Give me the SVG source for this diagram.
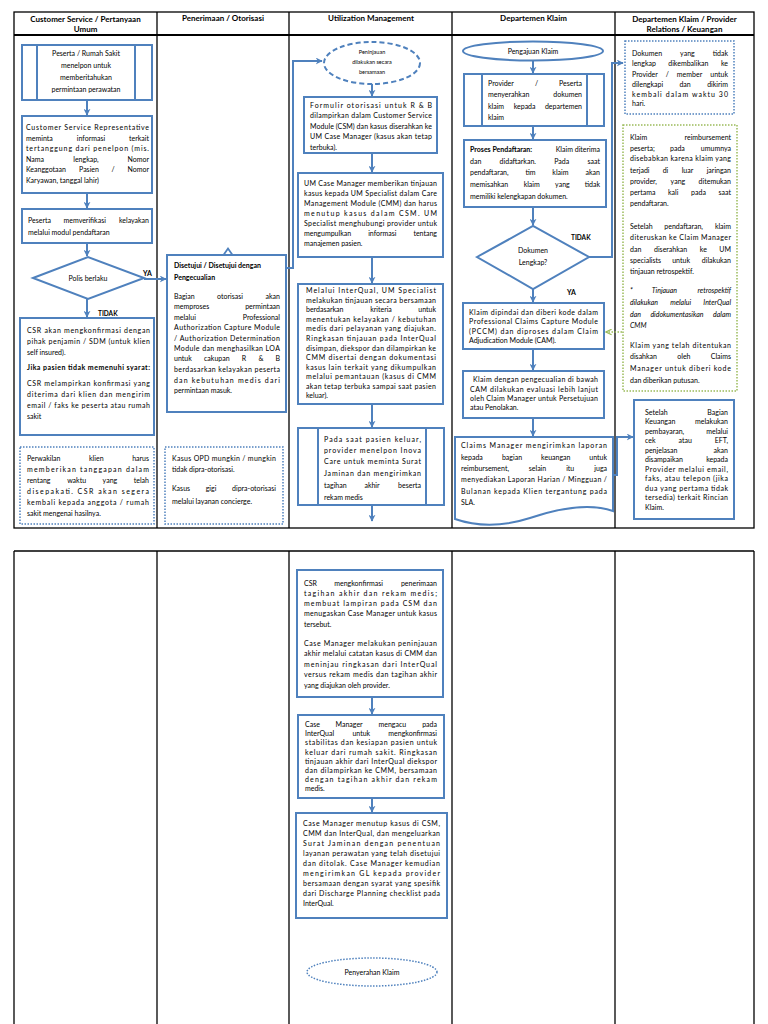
<svg xmlns="http://www.w3.org/2000/svg" width="768" height="1024" viewBox="0 0 768 1024">
<style>
.t{font-family:Lato,"Open Sans","Liberation Sans",sans-serif;font-size:7px;fill:#000}
.s{font-size:5.5px}
.b{font-weight:bold}
.i{font-style:italic}
.h{font-family:Lato,"Open Sans","Liberation Sans",sans-serif;font-size:8px;font-weight:bold;text-anchor:middle;fill:#000}
.m{text-anchor:middle}
.e{text-anchor:end}
.box{fill:#fff;stroke:#4F81BD;stroke-width:2}
.bl{stroke:#4F81BD;stroke-width:2}
.dot{fill:#fff;stroke:#4F81BD;stroke-width:1.5;stroke-dasharray:1.5 1.5}
.gdot{fill:#fff;stroke:#9BBB59;stroke-width:1.5;stroke-dasharray:1.5 1.5}
.dash{fill:#fff;stroke:#4F81BD;stroke-width:2;stroke-dasharray:5 3}
.grid{fill:none;stroke:#000;stroke-width:1.3}
.c{fill:none;stroke:#4F81BD;stroke-width:2;marker-end:url(#ah)}
.cg{fill:none;stroke:#9BBB59;stroke-width:1.5;stroke-dasharray:1.5 1.5;marker-end:url(#ahg)}
</style>
<defs>
<marker id="ah" viewBox="0 0 10 10" refX="9" refY="5" markerWidth="7" markerHeight="7" markerUnits="userSpaceOnUse" orient="auto"><path d="M0,0 L10,5 L0,10 L3,5 z" fill="#4F81BD"/></marker>
<marker id="ahg" viewBox="0 0 10 10" refX="9" refY="5" markerWidth="7" markerHeight="7" markerUnits="userSpaceOnUse" orient="auto"><path d="M1,1 L9,5 L1,9" fill="none" stroke="#9BBB59" stroke-width="1.8"/></marker>
</defs>
<rect width="768" height="1024" fill="#fff"/>

<g id="table">
<rect class="grid" x="14" y="12" width="740" height="516"/>
<line class="grid" x1="14" y1="35" x2="754" y2="35" style="stroke-width:2"/>
<line class="grid" x1="157" y1="12" x2="157" y2="528"/>
<line class="grid" x1="289" y1="12" x2="289" y2="528"/>
<line class="grid" x1="452" y1="12" x2="452" y2="528"/>
<line class="grid" x1="615" y1="12" x2="615" y2="528"/>
<line class="grid" x1="14" y1="551" x2="754" y2="551"/>
<line class="grid" x1="14" y1="551" x2="14" y2="1024"/>
<line class="grid" x1="157" y1="551" x2="157" y2="1024"/>
<line class="grid" x1="289" y1="551" x2="289" y2="1024"/>
<line class="grid" x1="452" y1="551" x2="452" y2="1024"/>
<line class="grid" x1="615" y1="551" x2="615" y2="1024"/>
<line class="grid" x1="754" y1="551" x2="754" y2="1024"/>
<text class="h" x="85.5" y="21.5">Customer Service / Pertanyaan</text>
<text class="h" x="85.5" y="31.5">Umum</text>
<text class="h" x="223" y="21">Penerimaan / Otorisasi</text>
<text class="h" x="371" y="21">Utilization Management</text>
<text class="h" x="533.5" y="21">Departemen Klaim</text>
<text class="h" x="684.5" y="21.5">Departemen Klaim / Provider</text>
<text class="h" x="684.5" y="31.5">Relations / Keuangan</text>
</g>

<g id="connectors">
<line class="c" x1="87" y1="100" x2="87" y2="115"/>
<line class="c" x1="87" y1="193" x2="87" y2="208"/>
<line class="c" x1="87" y1="243" x2="87" y2="256"/>
<line class="c" x1="87" y1="299" x2="87" y2="317"/>
<line class="c" x1="144" y1="279" x2="166" y2="279"/>
<path class="c" d="M286,268 H293 V61 H322"/>
<path d="M223.5,255 L228,248.5 L232.5,255" fill="#fff" stroke="#4F81BD" stroke-width="1.8"/>
<line class="c" x1="372" y1="84" x2="372" y2="96"/>
<line class="c" x1="372" y1="153" x2="372" y2="172"/>
<line class="c" x1="372" y1="257" x2="372" y2="283"/>
<line class="c" x1="372" y1="404" x2="372" y2="427"/>
<line class="c" x1="372" y1="505" x2="372" y2="521"/>
<line class="c" x1="533" y1="61" x2="533" y2="73"/>
<line class="c" x1="533" y1="126" x2="533" y2="139"/>
<line class="c" x1="533" y1="207" x2="533" y2="225"/>
<path class="c" d="M589,257 H612 V63 H623"/>
<line class="c" x1="533" y1="289" x2="533" y2="302"/>
<line class="c" x1="533" y1="349" x2="533" y2="370"/>
<line class="c" x1="533" y1="418" x2="533" y2="436"/>
<path class="c" d="M613,475 H617 V437 H633"/>
<line class="cg" x1="622" y1="332" x2="606" y2="332"/>
<line class="c" x1="372" y1="697" x2="372" y2="714"/>
<line class="c" x1="372" y1="798" x2="372" y2="812"/>
<text class="t b" x="143" y="275.5">YA</text>
<text class="t b" x="98" y="315.5" style="font-size:6.5px">TIDAK</text>
<text class="t b" x="571" y="239.5" style="font-size:6.5px">TIDAK</text>
<text class="t b" x="567" y="294.5">YA</text>
</g>

<g id="n1">
<rect class="box" x="22" y="45" width="130" height="55"/>
<line class="bl" x1="37" y1="45" x2="37" y2="100"/>
<line class="bl" x1="135" y1="45" x2="135" y2="100"/>
<text class="t m" x="86" y="55.5">Peserta / Rumah Sakit</text>
<text class="t m" x="86" y="67.5">menelpon untuk</text>
<text class="t m" x="86" y="79.5">memberitahukan</text>
<text class="t m" x="86" y="91.5">permintaan perawatan</text>
</g>

<g id="n2">
<rect class="box" x="22" y="116" width="130" height="77"/>
<text class="t" x="26" y="130" textLength="123" lengthAdjust="spacing">Customer Service Representative</text>
<text class="t" x="26" y="140.5">meminta</text><text class="t m" x="91" y="140.5">informasi</text><text class="t e" x="149" y="140.5">terkait</text>
<text class="t" x="26" y="151" textLength="123" lengthAdjust="spacing">tertanggung dari penelpon (mis.</text>
<text class="t" x="26" y="161.5">Nama</text><text class="t m" x="86" y="161.5">lengkap,</text><text class="t e" x="149" y="161.5">Nomor</text>
<text class="t" x="26" y="172">Keanggotaan</text><text class="t m" x="89" y="172">Pasien</text><text class="t m" x="113" y="172">/</text><text class="t e" x="149" y="172">Nomor</text>
<text class="t" x="26" y="182.5">Karyawan, tanggal lahir)</text>
</g>

<g id="n3">
<rect class="box" x="22" y="209" width="130" height="34"/>
<text class="t" x="28" y="222.5">Peserta</text><text class="t m" x="84.7" y="222.5">memverifikasi</text><text class="t e" x="149" y="222.5">kelayakan</text>
<text class="t" x="28" y="234.5">melalui modul pendaftaran</text>
</g>

<g id="d1">
<polygon class="box" points="33,278 88,257 144,278 88,299"/>
<text class="t m" x="88" y="281">Polis berlaku</text>
</g>

<g id="n4">
<rect class="box" x="20" y="318" width="134" height="117"/>
<text class="t" x="27" y="332.5" textLength="123" lengthAdjust="spacing">CSR akan mengkonfirmasi dengan</text>
<text class="t" x="27" y="343.5" textLength="123" lengthAdjust="spacing">pihak penjamin / SDM (untuk klien</text>
<text class="t" x="27" y="354.5">self insured).</text>
<text class="t b" x="27" y="369.5" textLength="123" lengthAdjust="spacing">Jika pasien tidak memenuhi syarat:</text>
<text class="t" x="27" y="385.5" textLength="123" lengthAdjust="spacing">CSR melampirkan konfirmasi yang</text>
<text class="t" x="27" y="396.5" textLength="123" lengthAdjust="spacing">diterima dari klien dan mengirim</text>
<text class="t" x="27" y="407.5" textLength="123" lengthAdjust="spacing">email / faks ke peserta atau rumah</text>
<text class="t" x="27" y="418.5">sakit</text>
</g>

<g id="n5">
<rect class="dot" x="20" y="447" width="134" height="77"/>
<text class="t" x="27" y="460.5">Perwakilan</text><text class="t m" x="96.3" y="460.5">klien</text><text class="t e" x="149" y="460.5">harus</text>
<text class="t" x="27" y="472" textLength="122" lengthAdjust="spacing">memberikan tanggapan dalam</text>
<text class="t" x="27" y="483">rentang</text><text class="t m" x="76.6" y="483">waktu</text><text class="t m" x="109.9" y="483">yang</text><text class="t e" x="149" y="483">telah</text>
<text class="t" x="27" y="494" textLength="122" lengthAdjust="spacing">disepakati. CSR akan segera</text>
<text class="t" x="27" y="505" textLength="122" lengthAdjust="spacing">kembali kepada anggota / rumah</text>
<text class="t" x="27" y="516">sakit mengenai hasilnya.</text>
</g>

<g id="n6">
<rect class="box" x="167" y="255" width="119" height="157"/>
<text class="t b" x="174" y="268">Disetujui / Disetujui dengan</text>
<text class="t b" x="174" y="280">Pengecualian</text>
<text class="t" x="174" y="298.5">Bagian</text><text class="t m" x="230" y="298.5">otorisasi</text><text class="t e" x="280" y="298.5">akan</text>
<text class="t" x="174" y="309">memproses</text><text class="t e" x="280" y="309">permintaan</text>
<text class="t" x="174" y="320">melalui</text><text class="t e" x="280" y="320">Professional</text>
<text class="t" x="174" y="330" textLength="106" lengthAdjust="spacing">Authorization Capture Module</text>
<text class="t" x="174" y="340.5" textLength="106" lengthAdjust="spacing">/ Authorization Determination</text>
<text class="t" x="174" y="351" textLength="106" lengthAdjust="spacing">Module dan menghasilkan LOA</text>
<text class="t" x="174" y="361">untuk</text><text class="t m" x="216.8" y="361">cakupan</text><text class="t m" x="244" y="361">R</text><text class="t m" x="261" y="361">&amp;</text><text class="t e" x="280" y="361">B</text>
<text class="t" x="174" y="372" textLength="106" lengthAdjust="spacing">berdasarkan kelayakan peserta</text>
<text class="t" x="174" y="382.5" textLength="106" lengthAdjust="spacing">dan kebutuhan medis dari</text>
<text class="t" x="174" y="393">permintaan masuk.</text>
</g>

<g id="n7">
<rect class="dot" x="165" y="447" width="118" height="77"/>
<text class="t" x="172" y="460.5" textLength="104" lengthAdjust="spacing">Kasus OPD mungkin / mungkin</text>
<text class="t" x="172" y="471.5">tidak dipra-otorisasi.</text>
<text class="t" x="172" y="490.5">Kasus</text><text class="t m" x="211" y="490.5">gigi</text><text class="t e" x="276" y="490.5">dipra-otorisasi</text>
<text class="t" x="172" y="503.5">melalui layanan concierge.</text>
</g>

<g id="e1">
<ellipse class="dash" cx="372" cy="63" rx="48" ry="21"/>
<text class="t s m" x="372" y="53.5">Peninjauan</text>
<text class="t s m" x="372" y="63.5">dilakukan secara</text>
<text class="t s m" x="372" y="73.5">bersamaan</text>
</g>

<g id="nA">
<rect class="box" x="304" y="97" width="133" height="56"/>
<text class="t" x="310" y="107.5" textLength="122" lengthAdjust="spacing">Formulir otorisasi untuk R &amp; B</text>
<text class="t" x="310" y="117.5" textLength="122" lengthAdjust="spacing">dilampirkan dalam Customer Service</text>
<text class="t" x="310" y="128.5" textLength="122" lengthAdjust="spacing">Module (CSM) dan kasus diserahkan ke</text>
<text class="t" x="310" y="139" textLength="122" lengthAdjust="spacing">UM Case Manager (kasus akan tetap</text>
<text class="t" x="310" y="149.5">terbuka).</text>
</g>

<g id="nB">
<rect class="box" x="298" y="173" width="145" height="84"/>
<text class="t" x="304" y="185.5" textLength="133" lengthAdjust="spacing">UM Case Manager memberikan tinjauan</text>
<text class="t" x="304" y="195.5" textLength="133" lengthAdjust="spacing">kasus kepada UM Specialist dalam Care</text>
<text class="t" x="304" y="205.5" textLength="133" lengthAdjust="spacing">Management Module (CMM) dan harus</text>
<text class="t" x="304" y="215.5" textLength="133" lengthAdjust="spacing">menutup kasus dalam CSM. UM</text>
<text class="t" x="304" y="225.5" textLength="133" lengthAdjust="spacing">Specialist menghubungi provider untuk</text>
<text class="t" x="304" y="235.5">mengumpulkan</text><text class="t m" x="382.3" y="235.5">informasi</text><text class="t e" x="437" y="235.5">tentang</text>
<text class="t" x="304" y="245.5">manajemen pasien.</text>
</g>

<g id="nC">
<rect class="box" x="298" y="284" width="145" height="120"/>
<text class="t" x="306" y="293" textLength="130" lengthAdjust="spacing">Melalui InterQual, UM Specialist</text>
<text class="t" x="306" y="302.5" textLength="130" lengthAdjust="spacing">melakukan tinjauan secara bersamaan</text>
<text class="t" x="306" y="312">berdasarkan</text><text class="t m" x="381" y="312">kriteria</text><text class="t e" x="436" y="312">untuk</text>
<text class="t" x="306" y="321.5" textLength="130" lengthAdjust="spacing">menentukan kelayakan / kebutuhan</text>
<text class="t" x="306" y="331" textLength="130" lengthAdjust="spacing">medis dari pelayanan yang diajukan.</text>
<text class="t" x="306" y="341" textLength="130" lengthAdjust="spacing">Ringkasan tinjauan pada InterQual</text>
<text class="t" x="306" y="350.5" textLength="130" lengthAdjust="spacing">disimpan, diekspor dan dilampirkan ke</text>
<text class="t" x="306" y="360" textLength="130" lengthAdjust="spacing">CMM disertai dengan dokumentasi</text>
<text class="t" x="306" y="369.5" textLength="130" lengthAdjust="spacing">kasus lain terkait yang dikumpulkan</text>
<text class="t" x="306" y="379" textLength="130" lengthAdjust="spacing">melalui pemantauan (kasus di CMM</text>
<text class="t" x="306" y="388.5" textLength="130" lengthAdjust="spacing">akan tetap terbuka sampai saat pasien</text>
<text class="t" x="306" y="398">keluar).</text>
</g>

<g id="nD">
<rect class="box" x="298" y="428" width="146" height="77"/>
<line class="bl" x1="318" y1="428" x2="318" y2="505"/>
<line class="bl" x1="426" y1="428" x2="426" y2="505"/>
<text class="t" x="324" y="441.5" textLength="97" lengthAdjust="spacing">Pada saat pasien keluar,</text>
<text class="t" x="324" y="452.5" textLength="97" lengthAdjust="spacing">provider menelpon Inova</text>
<text class="t" x="324" y="463.5" textLength="97" lengthAdjust="spacing">Care untuk meminta Surat</text>
<text class="t" x="324" y="475.5" textLength="97" lengthAdjust="spacing">Jaminan dan mengirimkan</text>
<text class="t" x="324" y="487.5">tagihan</text><text class="t m" x="372" y="487.5">akhir</text><text class="t e" x="421" y="487.5">beserta</text>
<text class="t" x="324" y="499.5">rekam medis</text>
</g>

<g id="e2">
<ellipse class="box" cx="533" cy="51" rx="70" ry="9.5"/>
<text class="t m" x="533" y="53.5">Pengajuan Klaim</text>
</g>

<g id="nE">
<rect class="box" x="464" y="74" width="140" height="52"/>
<line class="bl" x1="482" y1="74" x2="482" y2="126"/>
<line class="bl" x1="587" y1="74" x2="587" y2="126"/>
<text class="t" x="488" y="85.5">Provider</text><text class="t m" x="536.5" y="85.5">/</text><text class="t e" x="582" y="85.5">Peserta</text>
<text class="t" x="488" y="97">menyerahkan</text><text class="t e" x="582" y="97">dokumen</text>
<text class="t" x="488" y="108.5">klaim</text><text class="t m" x="524.6" y="108.5">kepada</text><text class="t e" x="582" y="108.5">departemen</text>
<text class="t" x="488" y="120">klaim</text>
</g>

<g id="nF">
<rect class="box" x="464" y="140" width="142" height="67"/>
<text class="t b" x="470" y="151.5">Proses Pendaftaran:</text><text class="t e" x="600" y="151.5">Klaim diterima</text>
<text class="t" x="470" y="163.5">dan</text><text class="t m" x="517.8" y="163.5">didaftarkan.</text><text class="t m" x="561.7" y="163.5">Pada</text><text class="t e" x="600" y="163.5">saat</text>
<text class="t" x="470" y="174.5">pendaftaran,</text><text class="t m" x="530.5" y="174.5">tim</text><text class="t m" x="560.4" y="174.5">klaim</text><text class="t e" x="600" y="174.5">akan</text>
<text class="t" x="470" y="186.5">memisahkan</text><text class="t m" x="531.7" y="186.5">klaim</text><text class="t m" x="562.4" y="186.5">yang</text><text class="t e" x="600" y="186.5">tidak</text>
<text class="t" x="470" y="198.5">memiliki kelengkapan dokumen.</text>
</g>

<g id="d2">
<polygon class="box" points="477,257 533,226 589,257 533,289"/>
<text class="t m" x="533" y="252.5">Dokumen</text>
<text class="t m" x="533" y="265">Lengkap?</text>
</g>

<g id="nG">
<rect class="box" x="463" y="303" width="141" height="46"/>
<text class="t" x="469" y="314.5" textLength="129" lengthAdjust="spacing">Klaim dipindai dan diberi kode dalam</text>
<text class="t" x="469" y="324" textLength="129" lengthAdjust="spacing">Professional Claims Capture Module</text>
<text class="t" x="469" y="333.5" textLength="129" lengthAdjust="spacing">(PCCM) dan diproses dalam Claim</text>
<text class="t" x="469" y="343">Adjudication Module (CAM).</text>
</g>

<g id="nH">
<rect class="box" x="463" y="371" width="141" height="47"/>
<text class="t" x="473" y="381.5" textLength="125" lengthAdjust="spacing">Klaim dengan pengecualian di bawah</text>
<text class="t" x="470" y="391.5" textLength="128" lengthAdjust="spacing">CAM dilakukan evaluasi lebih lanjut</text>
<text class="t" x="470" y="400.5" textLength="128" lengthAdjust="spacing">oleh Claim Manager untuk Persetujuan</text>
<text class="t" x="470" y="409.5">atau Penolakan.</text>
</g>

<g id="nI">
<path class="box" d="M455,437 H613 V511 C590,503 560,508 530,518 C505,526 478,527 455,519 Z"/>
<text class="t" x="461" y="447.5" textLength="146" lengthAdjust="spacing">Claims Manager mengirimkan laporan</text>
<text class="t" x="461" y="459.5">kepada</text><text class="t m" x="512" y="459.5">bagian</text><text class="t m" x="555.8" y="459.5">keuangan</text><text class="t e" x="607" y="459.5">untuk</text>
<text class="t" x="461" y="470.5">reimbursement,</text><text class="t m" x="537.5" y="470.5">selain</text><text class="t m" x="570.2" y="470.5">itu</text><text class="t e" x="607" y="470.5">juga</text>
<text class="t" x="461" y="481.5" textLength="146" lengthAdjust="spacing">menyediakan Laporan Harian / Mingguan /</text>
<text class="t" x="461" y="493.5" textLength="146" lengthAdjust="spacing">Bulanan kepada Klien tergantung pada</text>
<text class="t" x="461" y="504.5">SLA.</text>
</g>

<g id="nJ">
<rect class="dot" x="625" y="41" width="109" height="73"/>
<text class="t" x="632" y="55.5">Dokumen</text><text class="t m" x="687.4" y="55.5">yang</text><text class="t e" x="728" y="55.5">tidak</text>
<text class="t" x="632" y="66">lengkap</text><text class="t m" x="688.3" y="66">dikembalikan</text><text class="t e" x="728" y="66">ke</text>
<text class="t" x="632" y="76.5">Provider</text><text class="t m" x="667.3" y="76.5">/</text><text class="t m" x="689.5" y="76.5">member</text><text class="t e" x="728" y="76.5">untuk</text>
<text class="t" x="632" y="86.5">dilengkapi</text><text class="t m" x="685.1" y="86.5">dan</text><text class="t e" x="728" y="86.5">dikirim</text>
<text class="t" x="632" y="96.5" textLength="96" lengthAdjust="spacing">kembali dalam waktu 30</text>
<text class="t" x="632" y="106">hari.</text>
</g>

<g id="nK">
<rect class="gdot" x="623" y="125" width="114" height="266"/>
<text class="t" x="630" y="139.5">Klaim</text><text class="t e" x="731" y="139.5">reimbursement</text>
<text class="t" x="630" y="150.5">peserta;</text><text class="t m" x="677.4" y="150.5">pada</text><text class="t e" x="731" y="150.5">umumnya</text>
<text class="t" x="630" y="161" textLength="101" lengthAdjust="spacing">disebabkan karena klaim yang</text>
<text class="t" x="630" y="172.5">terjadi</text><text class="t m" x="665.5" y="172.5">di</text><text class="t m" x="687.5" y="172.5">luar</text><text class="t e" x="731" y="172.5">jaringan</text>
<text class="t" x="630" y="183.5">provider,</text><text class="t m" x="677.9" y="183.5">yang</text><text class="t e" x="731" y="183.5">ditemukan</text>
<text class="t" x="630" y="194.5">pertama</text><text class="t m" x="673.2" y="194.5">kali</text><text class="t m" x="698.5" y="194.5">pada</text><text class="t e" x="731" y="194.5">saat</text>
<text class="t" x="630" y="205.5">pendaftaran.</text>
<text class="t" x="630" y="229">Setelah</text><text class="t m" x="683.6" y="229">pendaftaran,</text><text class="t e" x="731" y="229">klaim</text>
<text class="t" x="630" y="240" textLength="101" lengthAdjust="spacing">diteruskan ke Claim Manager</text>
<text class="t" x="630" y="251.5">dan</text><text class="t m" x="670.6" y="251.5">diserahkan</text><text class="t m" x="703.4" y="251.5">ke</text><text class="t e" x="731" y="251.5">UM</text>
<text class="t" x="630" y="262.5">specialists</text><text class="t m" x="681.1" y="262.5">untuk</text><text class="t e" x="731" y="262.5">dilakukan</text>
<text class="t" x="630" y="273.5">tinjauan retrospektif.</text>
<text class="t i" x="630" y="292.5">*</text><text class="t i m" x="664.4" y="292.5">Tinjauan</text><text class="t i e" x="731" y="292.5">retrospektif</text>
<text class="t i" x="630" y="304.5">dilakukan</text><text class="t i m" x="680.6" y="304.5">melalui</text><text class="t i e" x="731" y="304.5">InterQual</text>
<text class="t i" x="630" y="316.5">dan</text><text class="t i m" x="676.9" y="316.5">didokumentasikan</text><text class="t i e" x="731" y="316.5">dalam</text>
<text class="t i" x="630" y="328">CMM</text>
<text class="t" x="630" y="347.5" textLength="101" lengthAdjust="spacing">Klaim yang telah ditentukan</text>
<text class="t" x="630" y="359">disahkan</text><text class="t m" x="683.9" y="359">oleh</text><text class="t e" x="731" y="359">Claims</text>
<text class="t" x="630" y="370.5" textLength="101" lengthAdjust="spacing">Manager untuk diberi kode</text>
<text class="t" x="630" y="382.5">dan diberikan putusan.</text>
</g>

<g id="nL">
<rect class="box" x="634" y="400" width="100" height="119"/>
<text class="t" x="645" y="414.5">Setelah</text><text class="t e" x="728" y="414.5">Bagian</text>
<text class="t" x="645" y="424">Keuangan</text><text class="t e" x="728" y="424">melakukan</text>
<text class="t" x="645" y="433.5">pembayaran,</text><text class="t e" x="728" y="433.5">melalui</text>
<text class="t" x="645" y="443">cek</text><text class="t m" x="685.2" y="443">atau</text><text class="t e" x="728" y="443">EFT,</text>
<text class="t" x="645" y="452.5">penjelasan</text><text class="t e" x="728" y="452.5">akan</text>
<text class="t" x="645" y="462">disampaikan</text><text class="t e" x="728" y="462">kepada</text>
<text class="t" x="645" y="471.5" textLength="83" lengthAdjust="spacing">Provider melalui email,</text>
<text class="t" x="645" y="481" textLength="83" lengthAdjust="spacing">faks, atau telepon (jika</text>
<text class="t" x="645" y="490.5" textLength="83" lengthAdjust="spacing">dua yang pertama tidak</text>
<text class="t" x="645" y="500" textLength="83" lengthAdjust="spacing">tersedia) terkait Rincian</text>
<text class="t" x="645" y="509.5">Klaim.</text>
</g>

<g id="nM">
<rect class="box" x="297" y="570" width="146" height="127"/>
<text class="t" x="304" y="585.5">CSR</text><text class="t m" x="358.6" y="585.5">mengkonfirmasi</text><text class="t e" x="437" y="585.5">penerimaan</text>
<text class="t" x="304" y="595.5" textLength="133" lengthAdjust="spacing">tagihan akhir dan rekam medis;</text>
<text class="t" x="304" y="605.5" textLength="133" lengthAdjust="spacing">membuat lampiran pada CSM dan</text>
<text class="t" x="304" y="616" textLength="133" lengthAdjust="spacing">menugaskan Case Manager untuk kasus</text>
<text class="t" x="304" y="626.5">tersebut.</text>
<text class="t" x="304" y="645.5" textLength="133" lengthAdjust="spacing">Case Manager melakukan peninjauan</text>
<text class="t" x="304" y="656" textLength="133" lengthAdjust="spacing">akhir melalui catatan kasus di CMM dan</text>
<text class="t" x="304" y="666.5" textLength="133" lengthAdjust="spacing">meninjau ringkasan dari InterQual</text>
<text class="t" x="304" y="677" textLength="133" lengthAdjust="spacing">versus rekam medis dan tagihan akhir</text>
<text class="t" x="304" y="687.5">yang diajukan oleh provider.</text>
</g>

<g id="nN">
<rect class="box" x="298" y="715" width="146" height="83"/>
<text class="t" x="305" y="727">Case</text><text class="t m" x="349.1" y="727">Manager</text><text class="t m" x="392.3" y="727">mengacu</text><text class="t e" x="437" y="727">pada</text>
<text class="t" x="305" y="736.2">InterQual</text><text class="t m" x="361.3" y="736.2">untuk</text><text class="t e" x="437" y="736.2">mengkonfirmasi</text>
<text class="t" x="305" y="745.4" textLength="132" lengthAdjust="spacing">stabilitas dan kesiapan pasien untuk</text>
<text class="t" x="305" y="754.6" textLength="132" lengthAdjust="spacing">keluar dari rumah sakit. Ringkasan</text>
<text class="t" x="305" y="763.8" textLength="132" lengthAdjust="spacing">tinjauan akhir dari InterQual diekspor</text>
<text class="t" x="305" y="773" textLength="132" lengthAdjust="spacing">dan dilampirkan ke CMM, bersamaan</text>
<text class="t" x="305" y="782.2" textLength="132" lengthAdjust="spacing">dengan tagihan akhir dan rekam</text>
<text class="t" x="305" y="791.4">medis.</text>
</g>

<g id="nO">
<rect class="box" x="296" y="813" width="151" height="105"/>
<text class="t" x="303" y="826" textLength="137" lengthAdjust="spacing">Case Manager menutup kasus di CSM,</text>
<text class="t" x="303" y="836" textLength="137" lengthAdjust="spacing">CMM dan InterQual, dan mengeluarkan</text>
<text class="t" x="303" y="846" textLength="137" lengthAdjust="spacing">Surat Jaminan dengan penentuan</text>
<text class="t" x="303" y="856" textLength="137" lengthAdjust="spacing">layanan perawatan yang telah disetujui</text>
<text class="t" x="303" y="866" textLength="137" lengthAdjust="spacing">dan ditolak. Case Manager kemudian</text>
<text class="t" x="303" y="876" textLength="137" lengthAdjust="spacing">mengirimkan GL kepada provider</text>
<text class="t" x="303" y="886" textLength="137" lengthAdjust="spacing">bersamaan dengan syarat yang spesifik</text>
<text class="t" x="303" y="896" textLength="137" lengthAdjust="spacing">dari Discharge Planning checklist pada</text>
<text class="t" x="303" y="906">InterQual.</text>
</g>

<g id="e3">
<ellipse class="dot" cx="372" cy="972" rx="65" ry="14"/>
<text class="t m" x="372" y="974.5">Penyerahan Klaim</text>
</g>
</svg>
